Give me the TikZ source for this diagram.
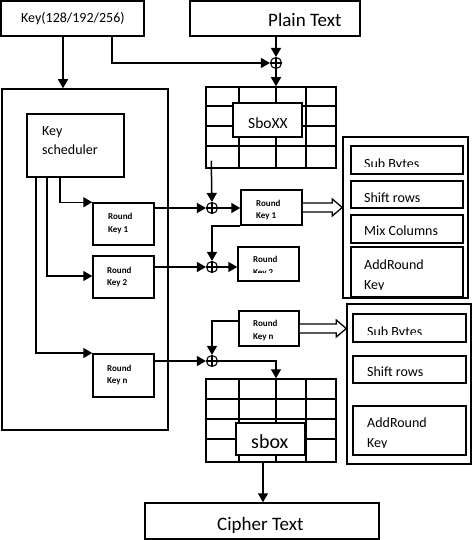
\documentclass[tikz,border=0pt]{standalone}
\usepackage{fontspec}
\setmainfont{Carlito}
\usetikzlibrary{arrows.meta,calc,fit}
\begin{document}
\begin{tikzpicture}[x=1pt,y=-1pt,
  ln/.style={line width=1.5pt},
  box/.style={draw, line width=1.5pt, inner sep=0pt, fill=white},
  arr/.style={line width=1.5pt, -{Triangle[length=9pt,width=10pt]}},
  xor/.style={circle, draw, line width=1.1pt, minimum size=11pt, inner sep=0pt, fill=white,
    path picture={\draw[line width=1.1pt] (path picture bounding box.north) -- (path picture bounding box.south)
      (path picture bounding box.west) -- (path picture bounding box.east);}},
  txt/.style={anchor=base west, inner sep=0pt},
  bigtxt/.style={txt, font=\fontsize{19}{23}\selectfont},
  midtxt/.style={txt, font=\fontsize{14}{17}\selectfont},
  rktxt/.style={txt, font=\bfseries\fontsize{9}{11}\selectfont},
  hollow/.style={draw, line width=1.3pt, fill=white, line join=miter}]
\useasboundingbox (0,0) rectangle (474,540);

% main boxes
\node[box, fit={(1,1) (144,36)}] (key) {};
\node[midtxt] (t-key) at (21,23) {Key(128/192/256)};
\node[box, fit={(190,1) (360,36)}] (plain) {};
\node[bigtxt] (t-plain) at (268,27) {Plain Text};
\node[box, fit={(145,503) (379,539)}] (cipher) {};
\node[bigtxt] (t-cipher) at (217,530) {Cipher Text};

% left key-schedule block
\node[box, fit={(2,89) (168,430)}] (big) {};
\node[box, fit={(27,114) (124,177)}] (ks) {};
\node[midtxt] (t-ks1) at (42,136) {Key};
\node[midtxt] (t-ks2) at (42,155) {scheduler};
\node[box, fit={(93,203) (154,245)}] (rk1) {};
\node[rktxt] (t-rk1a) at (108,219) {Round};
\node[rktxt] (t-rk1b) at (108,232) {Key 1};
\node[box, fit={(93,256) (154,298)}] (rk2) {};
\node[rktxt] (t-rk2a) at (107,273) {Round};
\node[rktxt] (t-rk2b) at (107,285) {Key 2};
\node[box, fit={(93,354) (154,397)}] (rkn) {};
\node[rktxt] (t-rkna) at (107,371) {Round};
\node[rktxt] (t-rknb) at (107,383) {Key n};

% top grid with SboXX
\node[box, fit={(206,87) (336,168)}] (g1) {};
\foreach \x in {239,276,306} \draw[ln] (\x,87) -- (\x,168);
\foreach \y in {106,126,146} \draw[ln] (206,\y) -- (336,\y);
\node[box, fit={(233,103) (302,137)}] (sboxx) {};
\node[txt, font=\fontsize{15.5}{18}\selectfont] (t-sboxx) at (248,129) {SboXX};

% bottom grid with sbox
\node[box, fit={(206,379) (336,462)}] (g2) {};
\foreach \x in {239,276,306} \draw[ln] (\x,379) -- (\x,462);
\foreach \y in {399,419,439} \draw[ln] (206,\y) -- (336,\y);
\node[box, fit={(236,423) (305,455)}] (sbox) {};
\node[txt, font=\fontsize{20}{24}\selectfont] (t-sbox) at (251,448) {sbox};

% round key boxes on the right of XORs
\node[box, fit={(241,190) (302,225)}] (rk1b) {};
\node[rktxt] (t-rk1ba) at (256,206) {Round};
\node[rktxt] (t-rk1bb) at (256,218) {Key 1};
\node[box, fit={(238,247) (299,281)}] (rk2b) {};
\node[rktxt] (t-rk2ba) at (253,262) {Round};
\begin{scope}
  \clip (240,265) rectangle (297,272.5);
  \node[rktxt] (t-rk2bb) at (253,275) {Key 2};
\end{scope}
\node[box, fit={(239,311) (299,346)}] (rknb) {};
\node[rktxt] (t-rknba) at (253,326) {Round};
\node[rktxt] (t-rknbb) at (253,339) {Key n};

% XORs
\node[xor] (xp) at (276,63) {};
\node[xor] (xa) at (212,208) {};
\node[xor] (xb) at (212,267) {};
\node[xor] (xc) at (212,361) {};

% round panel 1
\node[box, fit={(343,137) (468,298)}] (p1) {};
\node[box, fit={(351,146) (463,174)}] (sb1) {};
\begin{scope}
  \clip (353,148) rectangle (461,166.5);
  \node[midtxt] (t-sb1) at (364,168) {Sub Bytes};
\end{scope}
\node[box, fit={(351,181) (463,208)}] (sr1) {};
\node[midtxt] (t-sr1) at (364,202) {Shift rows};
\node[box, fit={(351,215) (463,243)}] (mc1) {};
\node[midtxt] (t-mc1) at (364,235) {Mix Columns};
\node[box, fit={(351,247) (463,297)}] (ar1) {};
\node[midtxt] (t-ar1) at (364,269) {AddRound};
\begin{scope}
  \clip (353,275) rectangle (461,289.5);
  \node[midtxt] (t-ar1b) at (364,289) {Key};
\end{scope}

% round panel 2
\node[box, fit={(347,304) (471,464)}] (p2) {};
\node[box, fit={(353,314) (466,342)}] (sb2) {};
\begin{scope}
  \clip (355,316) rectangle (464,334.5);
  \node[midtxt] (t-sb2) at (367,336) {Sub Bytes};
\end{scope}
\node[box, fit={(353,356) (466,383)}] (sr2) {};
\node[midtxt] (t-sr2) at (367,376) {Shift rows};
\node[box, fit={(353,406) (466,455)}] (ar2) {};
\node[midtxt] (t-ar2) at (367,427) {AddRound};
\begin{scope}
  \clip (355,432) rectangle (464,447.5);
  \node[midtxt] (t-ar2b) at (367,447) {Key};
\end{scope}

% connectors
\draw[arr] (key.south -| 63,0) -- (big.north -| 63,0);
\draw[arr] (key.south -| 112,0) |- (xp);
\draw[arr] (plain.south -| xp) -- (xp);
\draw[arr] (xp) -- (xp |- g1.north);
\draw[arr] ($(g1.south west)+(6,-8)$) -- (xa);
\draw[arr] (ks.south -| 60,0) |- (rk1.north west);
\draw[arr] (ks.south -| 47,0) |- (rk2.west |- 0,276);
\draw[arr] (ks.south -| 36,0) |- (rkn.west |- 0,353);
\draw[arr] (rk1.east |- xa) -- (xa);
\draw[arr] (xa) -- (rk1b.west |- xa);
\draw[arr] (rk1b.south west) -| (xb);
\draw[arr] (rk2.east |- xb) -- (xb);
\draw[arr] (xb) -- (rk2b.west |- xb);
\draw[arr] (rknb.west |- 0,321) -| (xc);
\draw[arr] (rkn.east |- xc) -- (xc);
\draw[arr] (xc) -| (g2.north -| 276,0);
\draw[arr] (g2.south -| 263,0) -- (cipher.north -| 263,0);

% hollow arrows
\coordinate (ha1) at (rk1b.east);
\coordinate (hb1) at (p1.west |- rk1b.east);
\draw[hollow] ($(ha1)+(0,-4.5)$) -- ($(hb1)+(-10,-4.5)$) -- ($(hb1)+(-10,-8.5)$) -- (hb1)
  -- ($(hb1)+(-10,8.5)$) -- ($(hb1)+(-10,4.5)$) -- ($(ha1)+(0,4.5)$);
\coordinate (ha2) at (rknb.east);
\coordinate (hb2) at (p2.west |- rknb.east);
\draw[hollow] ($(ha2)+(0,-4.5)$) -- ($(hb2)+(-10,-4.5)$) -- ($(hb2)+(-10,-8.5)$) -- (hb2)
  -- ($(hb2)+(-10,8.5)$) -- ($(hb2)+(-10,4.5)$) -- ($(ha2)+(0,4.5)$);
\end{tikzpicture}
\end{document}
